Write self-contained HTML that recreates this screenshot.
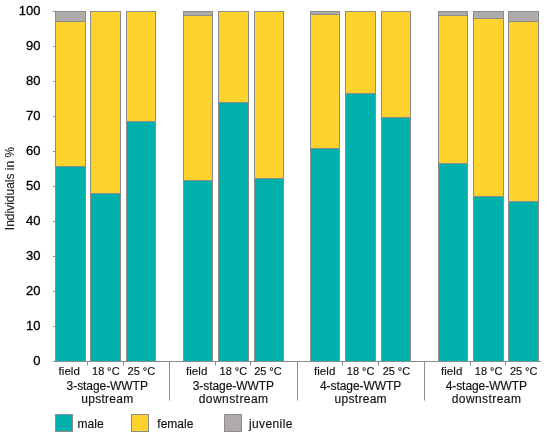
<!DOCTYPE html>
<html><head><meta charset="utf-8"><style>
html,body{margin:0;padding:0;background:#fff;}
svg{display:block;}
path{fill:none;stroke-width:1px;}
rect{stroke-width:1px;}
.t{font-family:"Liberation Sans",Arial,sans-serif;font-size:12px;fill:#111;stroke:#111;stroke-width:0.15px;}
.ya{font-size:13px;stroke-width:0.3px;fill:#000;stroke:#000;}
.tc{font-size:11px;}
.ti{fill:#222;stroke:#222;stroke-width:0.1px;}
.tf{font-size:11.5px;}
.tg{font-size:12px;}
</style></head><body>
<svg width="550" height="438" viewBox="0 0 550 438">
<path d="M53 361.5H541" stroke="#8C8C8C"/>
<path d="M53 361.5H55.5" stroke="#8C8C8C"/>
<text x="40.5" y="365.2" text-anchor="end" class="t ya">0</text>
<path d="M53 326.5H55.5" stroke="#8C8C8C"/>
<text x="40.5" y="330.2" text-anchor="end" class="t ya">10</text>
<path d="M53 291.5H55.5" stroke="#8C8C8C"/>
<text x="40.5" y="295.2" text-anchor="end" class="t ya">20</text>
<path d="M53 256.5H55.5" stroke="#8C8C8C"/>
<text x="40.5" y="260.2" text-anchor="end" class="t ya">30</text>
<path d="M53 221.5H55.5" stroke="#8C8C8C"/>
<text x="40.5" y="225.2" text-anchor="end" class="t ya">40</text>
<path d="M53 186.5H55.5" stroke="#8C8C8C"/>
<text x="40.5" y="190.2" text-anchor="end" class="t ya">50</text>
<path d="M53 151.5H55.5" stroke="#8C8C8C"/>
<text x="40.5" y="155.2" text-anchor="end" class="t ya">60</text>
<path d="M53 116.5H55.5" stroke="#8C8C8C"/>
<text x="40.5" y="120.2" text-anchor="end" class="t ya">70</text>
<path d="M53 81.5H55.5" stroke="#8C8C8C"/>
<text x="40.5" y="85.2" text-anchor="end" class="t ya">80</text>
<path d="M53 46.5H55.5" stroke="#8C8C8C"/>
<text x="40.5" y="50.2" text-anchor="end" class="t ya">90</text>
<path d="M53 11.5H55.5" stroke="#8C8C8C"/>
<text x="40.5" y="15.2" text-anchor="end" class="t ya">100</text>
<path d="M55.5 11.5V361.5" stroke="#8C8C8C"/>
<rect x="55.5" y="166.5" width="30.0" height="195.0" fill="#00B0AA" stroke="#8C8C8C"/>
<rect x="55.5" y="21.5" width="30.0" height="145.0" fill="#FFD22D" stroke="#8C8C8C"/>
<rect x="55.5" y="11.5" width="30.0" height="10.0" fill="#AEABAA" stroke="#8C8C8C"/>
<rect x="90.5" y="193.5" width="30.0" height="168.0" fill="#00B0AA" stroke="#8C8C8C"/>
<rect x="90.5" y="11.5" width="30.0" height="182.0" fill="#FFD22D" stroke="#8C8C8C"/>
<rect x="126.5" y="121.5" width="29.0" height="240.0" fill="#00B0AA" stroke="#8C8C8C"/>
<rect x="126.5" y="11.5" width="29.0" height="110.0" fill="#FFD22D" stroke="#8C8C8C"/>
<rect x="183.5" y="180.5" width="29.0" height="181.0" fill="#00B0AA" stroke="#8C8C8C"/>
<rect x="183.5" y="15.5" width="29.0" height="165.0" fill="#FFD22D" stroke="#8C8C8C"/>
<rect x="183.5" y="11.5" width="29.0" height="4.0" fill="#AEABAA" stroke="#8C8C8C"/>
<rect x="218.5" y="102.5" width="30.0" height="259.0" fill="#00B0AA" stroke="#8C8C8C"/>
<rect x="218.5" y="11.5" width="30.0" height="91.0" fill="#FFD22D" stroke="#8C8C8C"/>
<rect x="254.5" y="178.5" width="29.0" height="183.0" fill="#00B0AA" stroke="#8C8C8C"/>
<rect x="254.5" y="11.5" width="29.0" height="167.0" fill="#FFD22D" stroke="#8C8C8C"/>
<rect x="310.5" y="148.5" width="29.0" height="213.0" fill="#00B0AA" stroke="#8C8C8C"/>
<rect x="310.5" y="14.5" width="29.0" height="134.0" fill="#FFD22D" stroke="#8C8C8C"/>
<rect x="310.5" y="11.5" width="29.0" height="3.0" fill="#AEABAA" stroke="#8C8C8C"/>
<rect x="345.5" y="93.5" width="30.0" height="268.0" fill="#00B0AA" stroke="#8C8C8C"/>
<rect x="345.5" y="11.5" width="30.0" height="82.0" fill="#FFD22D" stroke="#8C8C8C"/>
<rect x="381.5" y="117.5" width="29.0" height="244.0" fill="#00B0AA" stroke="#8C8C8C"/>
<rect x="381.5" y="11.5" width="29.0" height="106.0" fill="#FFD22D" stroke="#8C8C8C"/>
<rect x="438.5" y="163.5" width="29.0" height="198.0" fill="#00B0AA" stroke="#8C8C8C"/>
<rect x="438.5" y="15.5" width="29.0" height="148.0" fill="#FFD22D" stroke="#8C8C8C"/>
<rect x="438.5" y="11.5" width="29.0" height="4.0" fill="#AEABAA" stroke="#8C8C8C"/>
<rect x="473.5" y="196.5" width="30.0" height="165.0" fill="#00B0AA" stroke="#8C8C8C"/>
<rect x="473.5" y="18.5" width="30.0" height="178.0" fill="#FFD22D" stroke="#8C8C8C"/>
<rect x="473.5" y="11.5" width="30.0" height="7.0" fill="#AEABAA" stroke="#8C8C8C"/>
<rect x="508.5" y="201.5" width="30.0" height="160.0" fill="#00B0AA" stroke="#8C8C8C"/>
<rect x="508.5" y="21.5" width="30.0" height="180.0" fill="#FFD22D" stroke="#8C8C8C"/>
<rect x="508.5" y="11.5" width="30.0" height="10.0" fill="#AEABAA" stroke="#8C8C8C"/>
<path d="M87.5 361.5V365.5" stroke="#8C8C8C"/>
<path d="M123.5 361.5V365.5" stroke="#8C8C8C"/>
<path d="M215.5 361.5V365.5" stroke="#8C8C8C"/>
<path d="M250.5 361.5V365.5" stroke="#8C8C8C"/>
<path d="M342.5 361.5V365.5" stroke="#8C8C8C"/>
<path d="M378.5 361.5V365.5" stroke="#8C8C8C"/>
<path d="M470.5 361.5V365.5" stroke="#8C8C8C"/>
<path d="M505.5 361.5V365.5" stroke="#8C8C8C"/>
<path d="M169.5 361.5V400.5" stroke="#8C8C8C"/>
<path d="M297.5 361.5V400.5" stroke="#8C8C8C"/>
<path d="M424.5 361.5V400.5" stroke="#8C8C8C"/>
<text x="69.20" y="374.6" text-anchor="middle" class="t tf" textLength="21.4" lengthAdjust="spacing">field</text>
<text x="91.89 98.14 104.12 107.10 111.66" y="375.2" class="t tc">18 °C</text>
<text x="127.59 133.70 139.68 142.65 147.21" y="375.2" class="t tc">25 °C</text>
<text x="196.60" y="374.6" text-anchor="middle" class="t tf" textLength="21.4" lengthAdjust="spacing">field</text>
<text x="219.54 225.79 231.77 234.75 239.31" y="375.2" class="t tc">18 °C</text>
<text x="254.19 260.30 266.28 269.25 273.81" y="375.2" class="t tc">25 °C</text>
<text x="324.60" y="374.6" text-anchor="middle" class="t tf" textLength="21.4" lengthAdjust="spacing">field</text>
<text x="346.84 353.09 359.07 362.05 366.61" y="375.2" class="t tc">18 °C</text>
<text x="382.69 388.80 394.78 397.75 402.31" y="375.2" class="t tc">25 °C</text>
<text x="451.60" y="374.6" text-anchor="middle" class="t tf" textLength="21.4" lengthAdjust="spacing">field</text>
<text x="474.84 481.09 487.07 490.05 494.61" y="375.2" class="t tc">18 °C</text>
<text x="509.89 516.00 521.98 524.95 529.51" y="375.2" class="t tc">25 °C</text>
<text x="107.25" y="390.0" text-anchor="middle" class="t tg" textLength="81.3" lengthAdjust="spacing">3-stage-WWTP</text>
<text x="107.25" y="403.1" text-anchor="middle" class="t tg" textLength="52" lengthAdjust="spacing">upstream</text>
<text x="233.4" y="390.0" text-anchor="middle" class="t tg" textLength="81.3" lengthAdjust="spacing">3-stage-WWTP</text>
<text x="233.4" y="403.1" text-anchor="middle" class="t tg" textLength="69.3" lengthAdjust="spacing">downstream</text>
<text x="360.6" y="390.0" text-anchor="middle" class="t tg" textLength="81.3" lengthAdjust="spacing">4-stage-WWTP</text>
<text x="360.6" y="403.1" text-anchor="middle" class="t tg" textLength="52" lengthAdjust="spacing">upstream</text>
<text x="486.3" y="390.0" text-anchor="middle" class="t tg" textLength="81.3" lengthAdjust="spacing">4-stage-WWTP</text>
<text x="486.3" y="403.1" text-anchor="middle" class="t tg" textLength="69.3" lengthAdjust="spacing">downstream</text>
<text transform="translate(14,188.5) rotate(-90)" text-anchor="middle" class="t ti">Individuals in %</text>
<rect x="55.5" y="414.5" width="17" height="17" fill="#00B0AA" stroke="#8C8C8C"/>
<text x="77.6" y="428" class="t">male</text>
<rect x="131.5" y="414.5" width="17" height="17" fill="#FFD22D" stroke="#8C8C8C"/>
<text x="157.3" y="428" class="t">female</text>
<rect x="224.5" y="414.5" width="17" height="17" fill="#AEABAA" stroke="#8C8C8C"/>
<text x="249" y="428" class="t" textLength="43.4" lengthAdjust="spacing">juvenile</text>
</svg>
</body></html>
